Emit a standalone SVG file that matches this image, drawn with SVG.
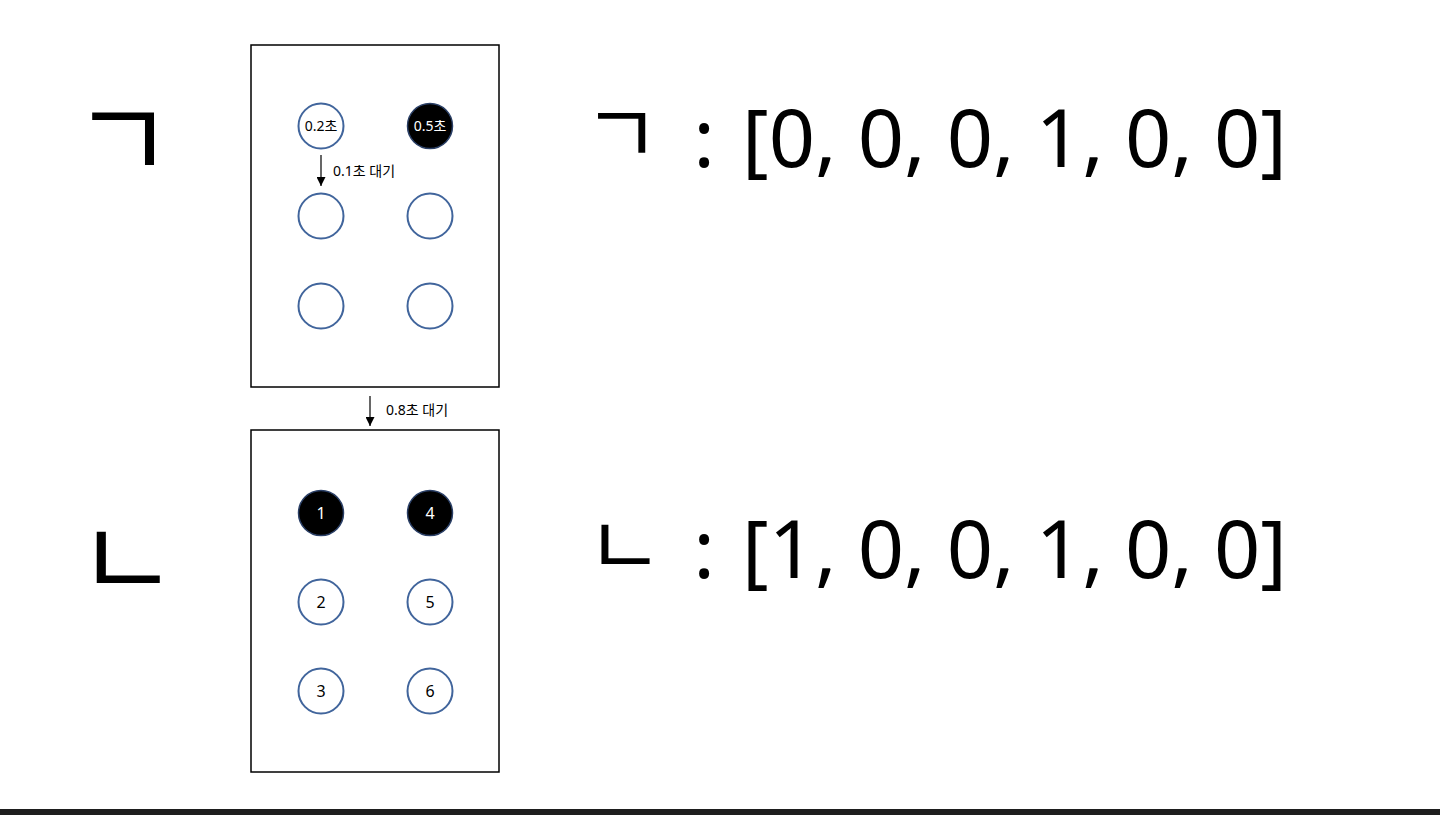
<svg xmlns="http://www.w3.org/2000/svg" width="1440" height="815" viewBox="0 0 1440 815">
<defs>
<style>
.box{fill:#fff;stroke:#000;stroke-width:1.5}
.c{fill:#fff;stroke:#41659c;stroke-width:2}
.cf{fill:#000;stroke:#2a3f66;stroke-width:1.5}
.t{font-family:"Noto Sans","Noto Sans CJK KR",sans-serif;font-size:14px;text-anchor:middle;fill:#000}
.n{font-size:16px}
.tw{fill:#fff}
.lbl{font-family:"Noto Sans","Noto Sans CJK KR",sans-serif;font-size:14px;fill:#000}
.big{font-family:"Noto Sans","Noto Sans CJK KR",sans-serif;font-size:81px;fill:#000}
.jamo{font-family:"Noto Sans CJK KR",sans-serif;fill:#000}
.ln{stroke:#000;stroke-width:1.2;fill:none}
</style>
<marker id="ah" viewBox="0 0 10 10" refX="10" refY="5" markerWidth="9" markerHeight="9" markerUnits="userSpaceOnUse" orient="auto">
<path d="M0,0 L10,5 L0,10 z" fill="#000"/>
</marker>
</defs>
<rect width="1440" height="815" fill="#fff"/>
<g id="label-giyeok">
<text class="jamo" x="123" y="180" font-size="110" text-anchor="middle">ㄱ</text>
</g>
<g id="label-nieun">
<text class="jamo" x="127" y="599" font-size="110" text-anchor="middle">ㄴ</text>
</g>
<g id="box1">
<rect class="box" x="251" y="45" width="248" height="342"/>
<g id="b1c1"><circle class="c" cx="321" cy="126" r="22.5"/><text class="t" x="321" y="131">0.2초</text></g>
<g id="b1c4"><circle class="cf" cx="430" cy="126" r="22.5"/><text class="t tw" x="430" y="131">0.5초</text></g>
<g id="b1c2"><circle class="c" cx="321" cy="216" r="22.5"/></g>
<g id="b1c5"><circle class="c" cx="430" cy="216" r="22.5"/></g>
<g id="b1c3"><circle class="c" cx="321" cy="306" r="22.5"/></g>
<g id="b1c6"><circle class="c" cx="430" cy="306" r="22.5"/></g>
</g>
<g id="box2">
<rect class="box" x="251" y="430" width="248" height="342"/>
<g id="b2c1"><circle class="cf" cx="321" cy="513" r="22.5"/><text class="t n tw" x="321" y="519">1</text></g>
<g id="b2c4"><circle class="cf" cx="430" cy="513" r="22.5"/><text class="t n tw" x="430" y="519">4</text></g>
<g id="b2c2"><circle class="c" cx="321" cy="602" r="22.5"/><text class="t n" x="321" y="608">2</text></g>
<g id="b2c5"><circle class="c" cx="430" cy="602" r="22.5"/><text class="t n" x="430" y="608">5</text></g>
<g id="b2c3"><circle class="c" cx="321" cy="691" r="22.5"/><text class="t n" x="321" y="697">3</text></g>
<g id="b2c6"><circle class="c" cx="430" cy="691" r="22.5"/><text class="t n" x="430" y="697">6</text></g>
</g>
<g id="connectors">
<line class="ln" x1="321" y1="155" x2="321" y2="186" marker-end="url(#ah)"/>
<text class="lbl" x="333" y="176">0.1초 대기</text>
<line class="ln" x1="370" y1="396" x2="370" y2="426" marker-end="url(#ah)"/>
<text class="lbl" x="386" y="415">0.8초 대기</text>
</g>
<g id="code1">
<text class="jamo" x="583" y="164" font-size="84">ㄱ</text>
<text class="big" x="704" y="167" text-anchor="middle">:</text>
<text class="big" x="742" y="167" textLength="545" lengthAdjust="spacing">[0, 0, 0, 1, 0, 0]</text>
</g>
<g id="code2">
<text class="jamo" x="586" y="576" font-size="84">ㄴ</text>
<text class="big" x="704" y="578" text-anchor="middle">:</text>
<text class="big" x="742" y="578" textLength="545" lengthAdjust="spacing">[1, 0, 0, 1, 0, 0]</text>
</g>
<rect x="0" y="809" width="1440" height="6" fill="#1e1e1e"/>
</svg>
